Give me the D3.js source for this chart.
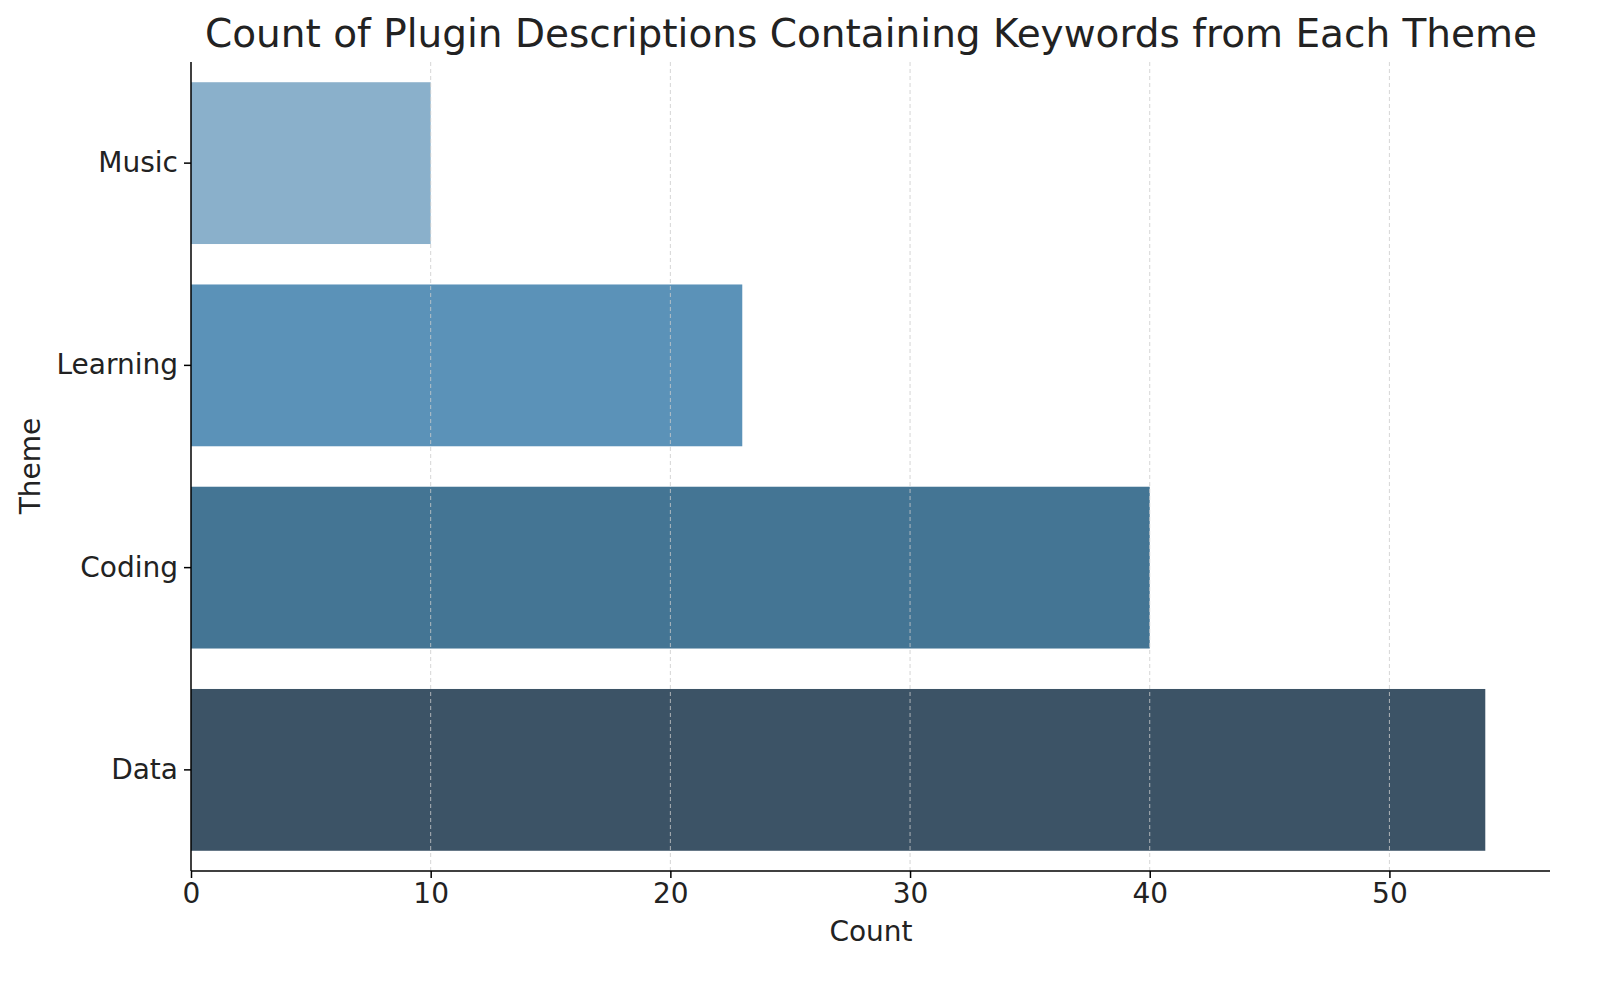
<!DOCTYPE html>
<html><head><meta charset="utf-8">
<script src="https://cdn.jsdelivr.net/npm/d3@7"></script>
<style>body{margin:0;background:#fff}text{font-family:"DejaVu Sans",sans-serif;fill:#222}</style>
</head><body><svg id="c" width="1600" height="985"></svg>
<script>
const categories=["Music","Learning","Coding","Data"];
const values=[10,23,40,54];
const colors=["#8ab0cb","#5b92b8","#447594","#3c5366"];
const xTicks=[0,10,20,30,40,50];
const svg=d3.select("#c");
const m={l:191,r:1550,t:62,b:871};
const x=d3.scaleLinear().domain([0,56.7]).range([m.l,m.r]);
const y=d3.scaleBand().domain(categories).range([m.t,m.b]).paddingInner(0.2).paddingOuter(0.1);
svg.append("g").selectAll("rect").data(categories).join("rect")
 .attr("x",x(0)).attr("y",d=>y(d)).attr("height",y.bandwidth())
 .attr("width",(d,i)=>x(values[i])-x(0)).attr("fill",(d,i)=>colors[i]);
svg.append("g").selectAll("line").data(xTicks.slice(1)).join("line")
 .attr("x1",d=>x(d)).attr("x2",d=>x(d)).attr("y1",m.t).attr("y2",m.b)
 .attr("stroke","#ccc").attr("stroke-opacity",0.8).attr("stroke-dasharray","4,3");
const xa=svg.append("g").attr("transform",`translate(0,${m.b})`)
 .call(d3.axisBottom(x).tickValues(xTicks).tickSize(7).tickPadding(5));
const ya=svg.append("g").attr("transform",`translate(${m.l},0)`)
 .call(d3.axisLeft(y).tickSize(7).tickPadding(6));
[xa,ya].forEach(a=>{a.selectAll("text").style("font-size","28px").style("fill","#222");
 a.selectAll("line").attr("stroke","#000").attr("stroke-width",1.5);
 a.select(".domain").remove();});
svg.append("line").attr("x1",m.l).attr("x2",m.r).attr("y1",m.b).attr("y2",m.b).attr("stroke","#000").attr("stroke-width",1.5);
svg.append("line").attr("x1",m.l).attr("x2",m.l).attr("y1",m.t).attr("y2",m.b).attr("stroke","#000").attr("stroke-width",1.5);
svg.append("text").attr("x",871).attr("y",47).attr("text-anchor","middle").style("font-size","39px").text("Count of Plugin Descriptions Containing Keywords from Each Theme");
svg.append("text").attr("x",871).attr("y",941).attr("text-anchor","middle").style("font-size","28px").text("Count");
svg.append("text").attr("transform","translate(40,466) rotate(-90)").attr("text-anchor","middle").style("font-size","28px").text("Theme");
</script></body></html>
